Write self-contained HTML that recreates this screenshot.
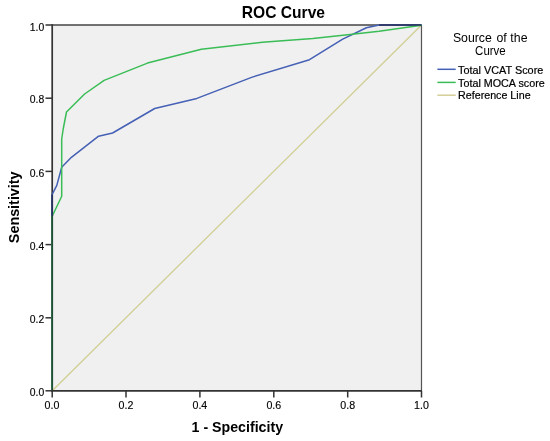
<!DOCTYPE html>
<html><head><meta charset="utf-8"><title>ROC Curve</title>
<style>
html,body{margin:0;padding:0;background:#fff;}
svg{display:block;}
text{font-family:"Liberation Sans",Arial,sans-serif;fill:#000;}
.b{font-weight:bold;}
.t{font-size:10.67px;fill:#111;stroke:#111;stroke-width:0.15px;}
</style></head><body>
<svg width="550" height="441" viewBox="0 0 550 441">
<rect width="550" height="441" fill="#fff"/>
<rect x="52" y="25" width="369.5" height="366" fill="#f0f0f0"/>
<!-- reference line -->
<line x1="52" y1="391" x2="421.5" y2="25" stroke="#d1ce92" stroke-width="1.3"/>
<!-- frame -->
<line x1="52" y1="25" x2="421.5" y2="25" stroke="#444" stroke-width="1.3"/>
<line x1="421.5" y1="25" x2="421.5" y2="391" stroke="#555" stroke-width="1.2"/>
<line x1="52.2" y1="24.3" x2="52.2" y2="391.8" stroke="#333" stroke-width="1.7"/>
<line x1="51.4" y1="390.8" x2="422" y2="390.8" stroke="#333" stroke-width="1.7"/>
<!-- ticks -->
<g stroke="#333" stroke-width="1.5">
<line x1="45.5" y1="25" x2="52" y2="25"/>
<line x1="45.5" y1="98.2" x2="52" y2="98.2"/>
<line x1="45.5" y1="171.4" x2="52" y2="171.4"/>
<line x1="45.5" y1="244.6" x2="52" y2="244.6"/>
<line x1="45.5" y1="317.8" x2="52" y2="317.8"/>
<line x1="45.5" y1="390.8" x2="52" y2="390.8"/>
<line x1="52.2" y1="391" x2="52.2" y2="397.5"/>
<line x1="126" y1="391" x2="126" y2="397.5"/>
<line x1="199.9" y1="391" x2="199.9" y2="397.5"/>
<line x1="273.8" y1="391" x2="273.8" y2="397.5"/>
<line x1="347.7" y1="391" x2="347.7" y2="397.5"/>
<line x1="421.5" y1="391" x2="421.5" y2="397.5"/>
</g>
<!-- curves -->
<polyline fill="none" stroke="#4560b5" stroke-width="1.5" stroke-linejoin="round" points="52.2,389 52.2,194.4 56.8,185.4 61.7,167.2 71.4,157.3 98.6,136.2 112.6,133 154.7,108.5 196.9,98.4 252.2,77.1 309.5,59.7 342.7,39.1 366.4,27.7 379.1,25 421.5,25"/>
<polyline fill="none" stroke="#3abd56" stroke-width="1.5" stroke-linejoin="round" points="52.2,389 52.2,216.2 61.7,196.2 61.7,139 63.2,129 66.5,112 84.6,94 104.1,80.4 147.5,63.1 201.3,49.2 262.4,42.2 312.9,38.4 350,34.4 379.1,31.2 421.5,25.2"/>
<line x1="52.2" y1="216" x2="52.2" y2="390" stroke="#204f33" stroke-width="1.7"/>
<line x1="52.2" y1="194.4" x2="52.2" y2="216" stroke="#28315c" stroke-width="1.7"/>
<line x1="379.1" y1="25" x2="421.5" y2="25" stroke="#28315c" stroke-width="1.5"/>
<!-- title -->
<text transform="translate(283.4,17.7) scale(1.02,1.07)" text-anchor="middle" class="b" font-size="15.3">ROC Curve</text>
<!-- y tick labels -->
<g class="t" text-anchor="end" style="font-size:10.4px">
<text x="44.3" y="30.6">1.0</text>
<text x="44.3" y="103">0.8</text>
<text x="44.3" y="176.5">0.6</text>
<text x="44.3" y="249.7">0.4</text>
<text x="44.3" y="323.4">0.2</text>
<text x="44.3" y="396.4">0.0</text>
</g>
<g class="t" text-anchor="middle">
<text x="52" y="408.6">0.0</text>
<text x="126" y="408.6">0.2</text>
<text x="199.9" y="408.6">0.4</text>
<text x="273.8" y="408.6">0.6</text>
<text x="347.7" y="408.6">0.8</text>
<text x="421.5" y="408.6">1.0</text>
</g>
<text transform="translate(237.3,432.4) scale(1.015,1.1)" text-anchor="middle" class="b" font-size="14">1 - Specificity</text>
<text transform="translate(19.2,207.3) rotate(-90) scale(1.025,1.08)" text-anchor="middle" class="b" font-size="14">Sensitivity</text>
<!-- legend -->
<text x="452.9" y="42" font-size="12.3">Source<tspan dx="1.1"> of</tspan><tspan dx="0.3"> the</tspan></text>
<text transform="translate(490.4,54.5) scale(0.925,1)" text-anchor="middle" font-size="12.4">Curve</text>
<line x1="437.4" y1="69.3" x2="455.7" y2="69.3" stroke="#4560b5" stroke-width="1.5"/>
<line x1="437.4" y1="82.4" x2="455.7" y2="82.4" stroke="#3abd56" stroke-width="1.5"/>
<line x1="437.4" y1="95.2" x2="455.7" y2="95.2" stroke="#d3ce97" stroke-width="1.5"/>
<text x="458.1" stroke="#000" stroke-width="0.2" y="73.6" font-size="10.85">Total VCAT Score</text>
<text x="458.1" stroke="#000" stroke-width="0.2" y="86.6" font-size="10.76">Total MOCA score</text>
<text x="458.1" stroke="#000" stroke-width="0.2" y="99.4" font-size="10.7">Reference Line</text>
</svg>
</body></html>
